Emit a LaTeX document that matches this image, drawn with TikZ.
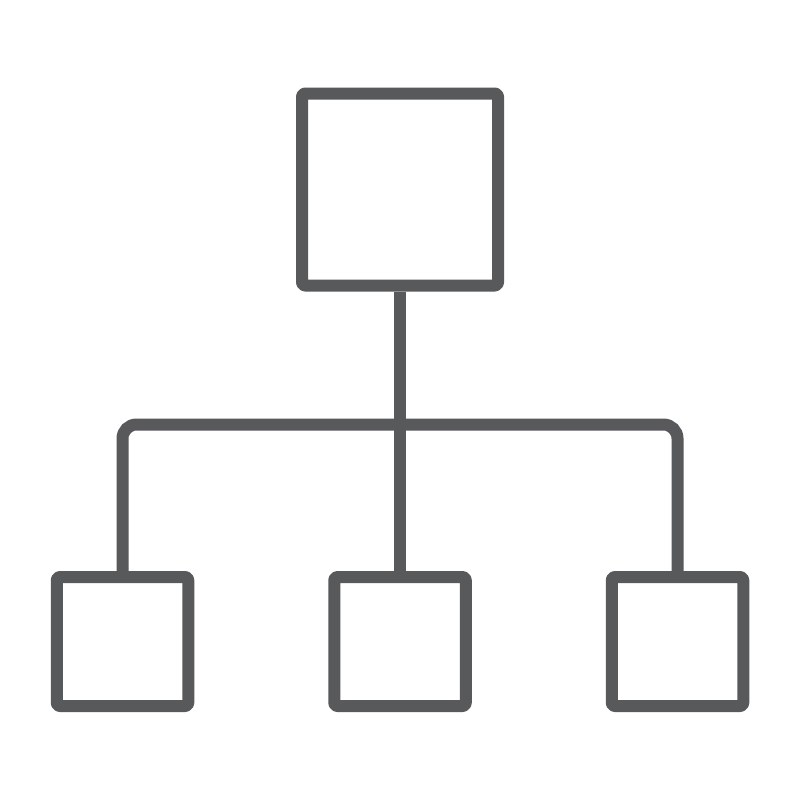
\documentclass[tikz,border=0pt]{standalone}
\usepackage{xcolor}
\definecolor{icongray}{HTML}{58595B}
\begin{document}
\begin{tikzpicture}[x=1pt,y=-1pt,
  box/.style={draw=icongray, line width=12pt, rounded corners=3pt, inner sep=0pt, line join=round, fill=white},
  small/.style={box, minimum width=131.5pt, minimum height=129pt},
  link/.style={draw=icongray, line width=12pt}]
\useasboundingbox[fill=white] (0,0) rectangle (800,800);
\coordinate (bar) at (400,424.5);
\node[box, minimum width=196pt, minimum height=192pt] (top) at (400,189.5) {};
\node[small] (left) at (122.5,641.5) {};
\node[small] (mid) at (400,641.5) {};
\node[small] (right) at (677.5,641.5) {};
\draw[link] (top.south) -- (mid.north);
\draw[link, rounded corners=14pt] (left.north) |- (bar) -| (right.north);
\end{tikzpicture}
\end{document}
